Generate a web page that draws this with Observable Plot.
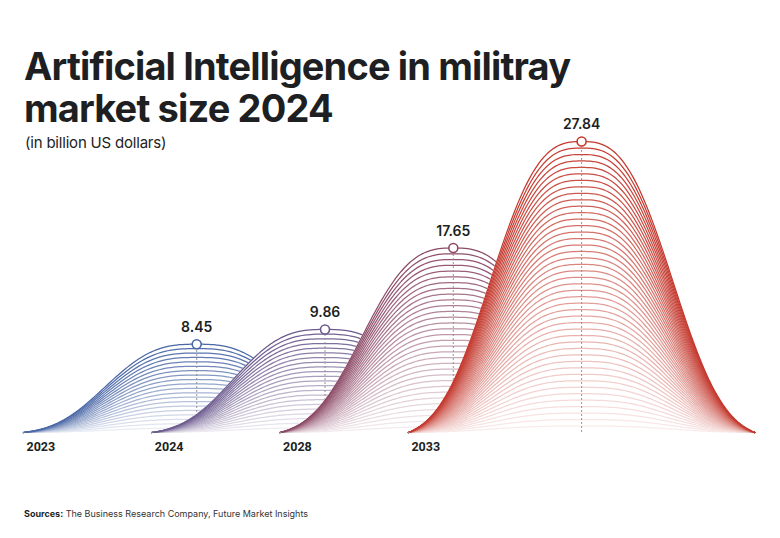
<!DOCTYPE html>
<html>
<head>
<meta charset="utf-8">
<script src="https://cdn.jsdelivr.net/npm/d3@7"></script>
<script src="https://cdn.jsdelivr.net/npm/@observablehq/plot@0.6"></script>
<style>
  html, body { margin: 0; padding: 0; background: #fff; }
  #wrap { position: relative; width: 780px; height: 538px; overflow: hidden; font-family: Inter, "Open Sans", sans-serif; color: #1d1f22; }
  #wrap svg { position: absolute; left: 0; top: 0; }
  .title { position: absolute; left: 24px; font-size: 38px; line-height: 38px; font-weight: 700; letter-spacing: -0.85px; z-index: 2; white-space: nowrap; }
  .t1 { top: 47px; }
  .t2 { top: 89px; }
  .subtitle { position: absolute; left: 25px; top: 133px; font-size: 15px; font-weight: 400; letter-spacing: -0.2px; z-index: 2; color: #222; }
  .source { position: absolute; left: 24px; top: 508px; font-size: 9px; color: #333; z-index: 2; }
  .source b { font-weight: 700; color: #1d1f22; }
</style>
</head>
<body>
<div id="wrap">
  <div class="title t1">Artificial Intelligence in militray</div>
  <div class="title t2">market size 2024</div>
  <div class="subtitle">(in billion US dollars)</div>
  <div class="source"><b>Sources:</b> The Business Research Company, Future Market Insights</div>
</div>
<script>
// Market size per year (billion US dollars)
const years = ["2023", "2024", "2028", "2033"];
const values = [8.45, 9.86, 17.65, 27.84];

// Styling of each ridge
const colors = ["#4a67a6", "#6c5a8e", "#8d4a67", "#c4392e"];
const lineCounts = [20, 22, 32, 45];
const halfWidth = 1.35;   // ridge half width, in category slots
const steps = 120;

// Bell profile: 1 at the peak, 0 at the ridge's ends
function bell(t) {
  const s = 0.62, p = 2.8;
  const e0 = Math.exp(-Math.pow(1 / s, p));
  return Math.max(0, (Math.exp(-Math.pow(t / s, p)) - e0) / (1 - e0));
}

const ridges = values.map((v, i) => {
  const start = i;
  const peak = start + halfWidth;
  const outline = d3.range(steps + 1).map(j => {
    const x = start + 2 * halfWidth * j / steps;
    return { x, y: v * bell(Math.abs(x - peak) / halfWidth) };
  });
  const n = lineCounts[i];
  const mix = d3.interpolateRgb("#ffffff", colors[i]);
  const lines = [];
  for (let k = 1; k <= n; k++) {
    const u = k / n;
    const c = mix(0.08 + 0.92 * u);
    for (const p of outline) lines.push({ x: p.x, y: p.y * u, z: `${i}-${k}`, c });
  }
  return { i, v, peak, outline, lines };
});

const peaks = ridges.map(r => ({ x: r.peak, v: r.v, c: colors[r.i] }));
const ticks = years.map((y, i) => ({ x: i, label: y }));

// Each ridge masks the ones behind it with a white fill that reaches just below the baseline
const marks = [];
for (const r of ridges) {
  marks.push(Plot.areaY(r.outline, { x: "x", y1: () => -0.25, y2: "y", fill: "#fff" }));
  marks.push(Plot.line(r.lines, { x: "x", y: "y", z: "z", stroke: "c", strokeWidth: 1.25 }));
  marks.push(Plot.ruleX([peaks[r.i]], { x: "x", y1: () => 0, y2: "v", stroke: "#8a8a8a", strokeWidth: 0.9, strokeDasharray: "2,2" }));
}
marks.push(
  Plot.dot(peaks, { x: "x", y: "v", r: 4.5, fill: "#fff", stroke: "c", strokeWidth: 1.6 }),
  Plot.text(peaks, { x: "x", y: "v", text: d => d.v.toFixed(2), dy: -17, fontSize: 14, fontWeight: 600, fill: "#1d1f22", fontFamily: "Inter, sans-serif" }),
  Plot.dot(ticks, { x: "x", y: () => 0, r: 0.9, fill: "#999" }),
  Plot.text(ticks, { x: "x", y: () => 0, text: "label", textAnchor: "start", dx: 3, dy: 14, fontSize: 12.5, fontWeight: 700, fill: "#1d1f22", fontFamily: "'Liberation Sans Narrow', Roboto, sans-serif" })
);

const unit = 128.3;
const chart = Plot.plot({
  width: 780,
  height: 538,
  margin: 0,
  x: { domain: [0, 5.6], range: [23, 23 + 5.6 * unit], axis: null },
  y: { domain: [0, 30], range: [432, 432 - 30 * 10.45], axis: null },
  color: { type: "identity" },
  style: { background: "transparent", overflow: "visible" },
  marks
});
document.getElementById("wrap").appendChild(chart);
</script>
</body>
</html>
